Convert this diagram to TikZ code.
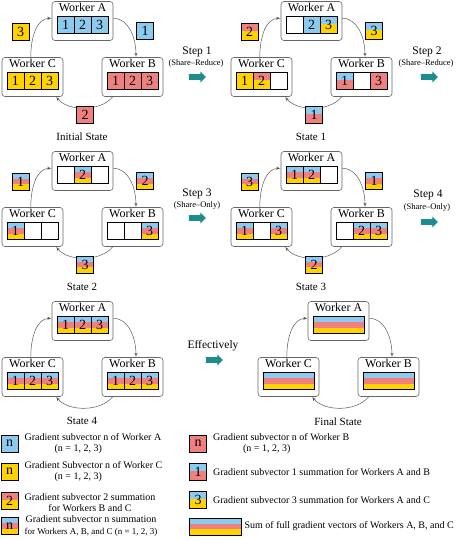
\documentclass[tikz,border=0pt]{standalone}
\usepackage{fontspec}
\setmainfont{Liberation Serif}
\usetikzlibrary{positioning,arrows,calc,shapes.arrows}

\definecolor{gblue}{RGB}{140,202,240}
\definecolor{gred}{RGB}{240,128,128}
\definecolor{gyellow}{RGB}{255,210,0}
\definecolor{stepteal}{RGB}{28,140,140}

\tikzset{
    worker/.style = {
        draw=black!60,
        shape=rectangle,
        rounded corners=3pt,
        minimum width=61pt,
        minimum height=39pt,
        line width=0.6pt,
        fill=white
    },
    wname/.style = {
        anchor=north,
        inner sep=2pt,
        font=\fontsize{12}{12}\selectfont
    },
    cell/.style = {
        draw,
        shape=rectangle,
        minimum width=17pt,
        minimum height=17pt,
        inner sep=0pt,
        line width=0.8pt,
        font=\fontsize{14}{14}\selectfont
    },
    split/.style 2 args = {path picture={
        \fill[#2] (path picture bounding box.south west) rectangle (path picture bounding box.north east);
        \fill[#1] ($(path picture bounding box.north west)!0.45!(path picture bounding box.south west)$) rectangle (path picture bounding box.north east);
    }},
    tri/.style = {path picture={
        \fill[gyellow] (path picture bounding box.south west) rectangle (path picture bounding box.north east);
        \fill[gred] ($(path picture bounding box.north west)!0.667!(path picture bounding box.south west)$) rectangle (path picture bounding box.north east);
        \fill[gblue] ($(path picture bounding box.north west)!0.333!(path picture bounding box.south west)$) rectangle (path picture bounding box.north east);
    }},
    ce/.style = {cell, fill=white},
    cb/.style = {cell, fill=gblue},
    cr/.style = {cell, fill=gred},
    cy/.style = {cell, fill=gyellow},
    cbr/.style = {cell, split={gblue}{gred}},
    cby/.style = {cell, split={gblue}{gyellow}},
    cry/.style = {cell, split={gred}{gyellow}},
    cbry/.style = {cell, tri},
    fullbar/.style = {cell, minimum width=51pt, tri},
    ringline/.style = {draw=black!65, line width=0.5pt, ->},
    statename/.style = {font=\fontsize{11}{11}\selectfont},
    steptext/.style = {font=\fontsize{11.5}{11.5}\selectfont, inner sep=1pt},
    stepsub/.style = {font=\fontsize{8.5}{8.5}\selectfont, inner sep=1pt},
    steparrow/.style = {
        shape=single arrow,
        fill=stepteal,
        minimum height=17pt,
        minimum width=11pt,
        single arrow head extend=2.75pt,
        single arrow head indent=0pt,
        inner xsep=0pt,
        inner ysep=2.75pt
    },
    legend/.style = {font=\fontsize{10}{11.5}\selectfont, inner sep=1pt},
    >=latex',
}

% worker box: name, label, centre, cells (style/number)
\newcommand{\worker}[4]{%
    \node[worker] (#1) at (#3) {};
    \node[wname] (#1-name) at (#1.north) {#2};
    \foreach \s/\v [count=\i] in {#4}
        \node[\s] (#1-\i) at ([shift={(\i*17-34,4)}]#1.center) {\v};
}

% ring A -> B -> C -> A
\newcommand{\ring}[3]{%
    \path[ringline] (#1.5) .. controls +(15,0) and +(0,-20) .. (#2.80);
    \path[ringline] (#2.225) .. controls +(-12,15) and +(12,15) .. (#3.320);
    \path[ringline] (#3.95) .. controls +(0,-20) and +(-15,0) .. (#1.175);
}

\begin{document}
\begin{tikzpicture}[x=1pt, y=-1pt]
    \useasboundingbox (0,0) rectangle (474,540);

    % initial state
    \worker{a0}{Worker A}{82.5,21}{cb/1,cb/2,cb/3}
    \worker{b0}{Worker B}{132.5,77}{cr/1,cr/2,cr/3}
    \worker{c0}{Worker C}{32.5,77}{cy/1,cy/2,cy/3}
    \ring{a0}{b0}{c0}
    \node[cb] (ab0) at (145,31) {1};
    \node[cr] (bc0) at (85,114.5) {2};
    \node[cy] (ca0) at (20.5,31.5) {3};
    \node[statename] (st0) at (82,137) {Initial State};

    \node[steptext] (step1) at (197,52) {Step 1};
    \node[stepsub] (step1s) at (196,63) {(Share--Reduce)};
    \node[steparrow] (step1a) at (196,77) {};

    % state 1
    \worker{a1}{Worker A}{311.5,21}{ce/{},cb/2,cby/3}
    \worker{b1}{Worker B}{361.5,77}{cbr/1,ce/{},cr/3}
    \worker{c1}{Worker C}{261.5,77}{cy/1,cry/2,ce/{}}
    \ring{a1}{b1}{c1}
    \node[cby] (ab1) at (374,31) {3};
    \node[cbr] (bc1) at (314,114.5) {1};
    \node[cry] (ca1) at (249.5,31.5) {2};
    \node[statename] (st1) at (311,137) {State 1};

    \node[steptext] (step2) at (427,52) {Step 2};
    \node[stepsub] (step2s) at (426,63) {(Share--Reduce)};
    \node[steparrow] (step2a) at (428,77) {};

    % state 2
    \worker{a2}{Worker A}{82.5,171}{ce/{},cbry/2,ce/{}}
    \worker{b2}{Worker B}{132.5,227}{ce/{},ce/{},cbry/3}
    \worker{c2}{Worker C}{32.5,227}{cbry/1,ce/{},ce/{}}
    \ring{a2}{b2}{c2}
    \node[cbry] (ab2) at (145,181) {2};
    \node[cbry] (bc2) at (85,264.5) {3};
    \node[cbry] (ca2) at (20.5,181.5) {1};
    \node[statename] (st2) at (82,287) {State 2};

    \node[steptext] (step3) at (197,194) {Step 3};
    \node[stepsub] (step3s) at (197,205) {(Share--Only)};
    \node[steparrow] (step3a) at (196,218) {};

    % state 3
    \worker{a3}{Worker A}{311.5,171}{cbry/1,cbry/2,ce/{}}
    \worker{b3}{Worker B}{361.5,227}{ce/{},cbry/2,cbry/3}
    \worker{c3}{Worker C}{261.5,227}{cbry/1,ce/{},cbry/3}
    \ring{a3}{b3}{c3}
    \node[cbry] (ab3) at (374,181) {1};
    \node[cbry] (bc3) at (314,264.5) {2};
    \node[cbry] (ca3) at (249.5,181.5) {3};
    \node[statename] (st3) at (311,287) {State 3};

    \node[steptext] (step4) at (428,195) {Step 4};
    \node[stepsub] (step4s) at (427,207) {(Share--Only)};
    \node[steparrow] (step4a) at (428,222) {};

    % state 4
    \worker{a4}{Worker A}{82.5,321}{cbry/1,cbry/2,cbry/3}
    \worker{b4}{Worker B}{132.5,377}{cbry/1,cbry/2,cbry/3}
    \worker{c4}{Worker C}{32.5,377}{cbry/1,cbry/2,cbry/3}
    \ring{a4}{b4}{c4}
    \node[statename] (st4) at (82,421) {State 4};

    \node[steptext] (eff) at (213,346) {Effectively};
    \node[steparrow] (effa) at (213,360) {};

    % final state
    \node[worker] (af) at (338.5,321) {};
    \node[wname] at (af.north) {Worker A};
    \node[fullbar] (afbar) at ([shift={(0,4)}]af.center) {};
    \node[worker] (bf) at (388.5,377) {};
    \node[wname] at (bf.north) {Worker B};
    \node[fullbar] (bfbar) at ([shift={(0,4)}]bf.center) {};
    \node[worker] (cf) at (288.5,377) {};
    \node[wname] at (cf.north) {Worker C};
    \node[fullbar] (cfbar) at ([shift={(0,4)}]cf.center) {};
    \ring{af}{bf}{cf}
    \node[statename] (stf) at (338,422) {Final State};

    % legend
    \node[cb] (lg1) at (9.5,443.5) {n};
    \node[legend, align=left, right=5pt of lg1] {Gradient subvector n of Worker A\\\hspace*{30pt}(n = 1, 2, 3)};
    \node[cy] (lg2) at (9.5,471.5) {n};
    \node[legend, align=left, right=5pt of lg2] {Gradient Subvector n of Worker C\\\hspace*{30pt}(n = 1, 2, 3)};
    \node[cry] (lg3) at (9.5,500.5) {2};
    \node[legend, align=center, right=5pt of lg3, yshift=-2pt] {Gradient subvector 2 summation\\for Workers B and C};
    \node[cbry] (lg4) at (9.5,526) {n};
    \node[legend, align=center, right=5pt of lg4] {Gradient subvector n summation\\{\fontsize{9}{10}\selectfont for Workers A, B, and C (n = 1, 2, 3)}};

    \node[cr] (lg5) at (198,443.5) {n};
    \node[legend, align=left, right=5pt of lg5] {Gradient subvector n of Worker B\\\hspace*{30pt}(n = 1, 2, 3)};
    \node[cbr] (lg6) at (198,472) {1};
    \node[legend, right=5pt of lg6] {Gradient subvector 1 summation for Workers A and B};
    \node[cby] (lg7) at (198,500) {3};
    \node[legend, right=5pt of lg7] {Gradient subvector 3 summation for Workers A and C};
    \node[fullbar, minimum width=52pt] (lg8) at (215,526.5) {};
    \node[legend, right=2pt of lg8] {Sum of full gradient vectors of Workers A, B, and C};

\end{tikzpicture}
\end{document}
